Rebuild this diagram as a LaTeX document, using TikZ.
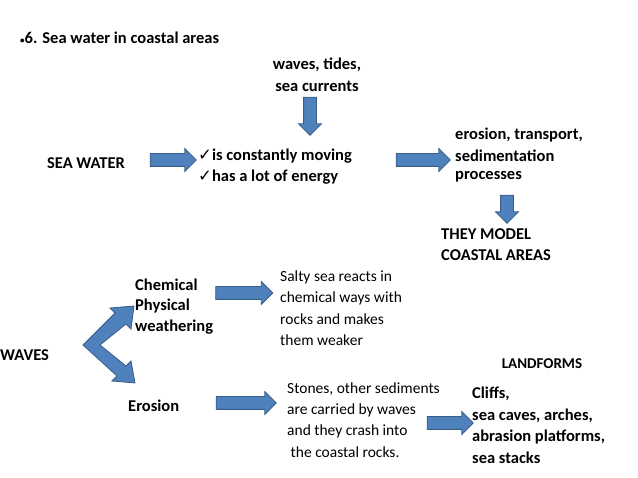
\documentclass[tikz,border=0pt]{standalone}
\usepackage{fontspec}
\setmainfont{Carlito}
\newfontfamily\djvfont{DejaVu Sans}
\usetikzlibrary{shapes.arrows}
\definecolor{af}{HTML}{4F81BD}
\definecolor{ab}{HTML}{385D8A}
\begin{document}
\begin{tikzpicture}[x=1pt,y=-1pt,
 t/.style={font=\fontsize{16.5}{18}\selectfont\bfseries,inner sep=0pt},
 tl/.style={t,anchor=west},
 n/.style={font=\fontsize{15.5}{18}\selectfont,inner sep=0pt,anchor=west},
 ra/.style={single arrow,draw=ab,fill=af,line width=0.8pt,minimum height=#1,inner sep=6pt,single arrow head extend=5pt,anchor=center,single arrow tip angle=90},
 da/.style={ra=#1,shape border rotate=270}]
\useasboundingbox (0,0) rectangle (638,478);
\node[tl] (title) at (20,38) {{\small•}6. Sea water in coastal areas};
\node[t] (w1) at (317,65) {waves, tides,};
\node[t] (w2) at (317,86) {sea currents};
\node[da=38pt] (a1) at (310,113) {};
\node[t] (sea) at (86,163) {SEA WATER};
\node[ra=46pt] (a2) at (170,160) {};
\node[tl] (c1) at (198,156) {{\djvfont\mdseries ✓}is constantly moving};
\node[tl] (c2) at (198,177) {{\djvfont\mdseries ✓}has a lot of energy};
\node[ra=54pt] (a3) at (420,160) {};
\node[tl] (e1) at (455,135) {erosion, transport,};
\node[tl] (e2) at (455,156) {sedimentation};
\node[tl] (e3) at (455,177) {processes};
\node[da=28pt] (a4) at (507,206) {};
\node[tl] (m1) at (441,234) {THEY MODEL};
\node[tl] (m2) at (441,255) {COASTAL AREAS};
\node[tl] (ch1) at (135,285) {Chemical};
\node[tl] (ch2) at (135,306) {Physical};
\node[tl] (ch3) at (135,327) {weathering};
\node[ra=57pt] (a5) at (241,293) {};
\node[n] (s1) at (280,277) {Salty sea reacts in};
\node[n] (s2) at (280,298) {chemical ways with};
\node[n] (s3) at (280,319) {rocks and makes};
\node[n] (s4) at (280,340) {them weaker};
\node[tl] (wv) at (0,355) {WAVES};
\fill[af,draw=ab,line width=0.8pt] (83,345) -- (115,313) -- (110,308) -- (134,306) -- (131,329) -- (126,324) -- (100,345) -- (126,366) -- (131,361) -- (135,383) -- (112,381) -- (117,376) -- cycle;
\node[t,font=\fontsize{15}{18}\selectfont\bfseries] (lf) at (542,364) {LANDFORMS};
\node[tl] (er) at (128,406) {Erosion};
\node[ra=60pt] (a6) at (243,403) {};
\node[n] (st1) at (287,389) {Stones, other sediments};
\node[n] (st2) at (287,410) {are carried by waves};
\node[n] (st3) at (287,431) {and they crash into};
\node[n] (st4) at (287,452) {\ the coastal rocks.};
\node[ra=46pt] (a7) at (447,423) {};
\node[tl] (l1) at (472,394) {Cliffs,};
\node[tl] (l2) at (472,416) {sea caves, arches,};
\node[tl] (l3) at (472,437) {abrasion platforms,};
\node[tl] (l4) at (472,458) {sea stacks};
\end{tikzpicture}
\end{document}
